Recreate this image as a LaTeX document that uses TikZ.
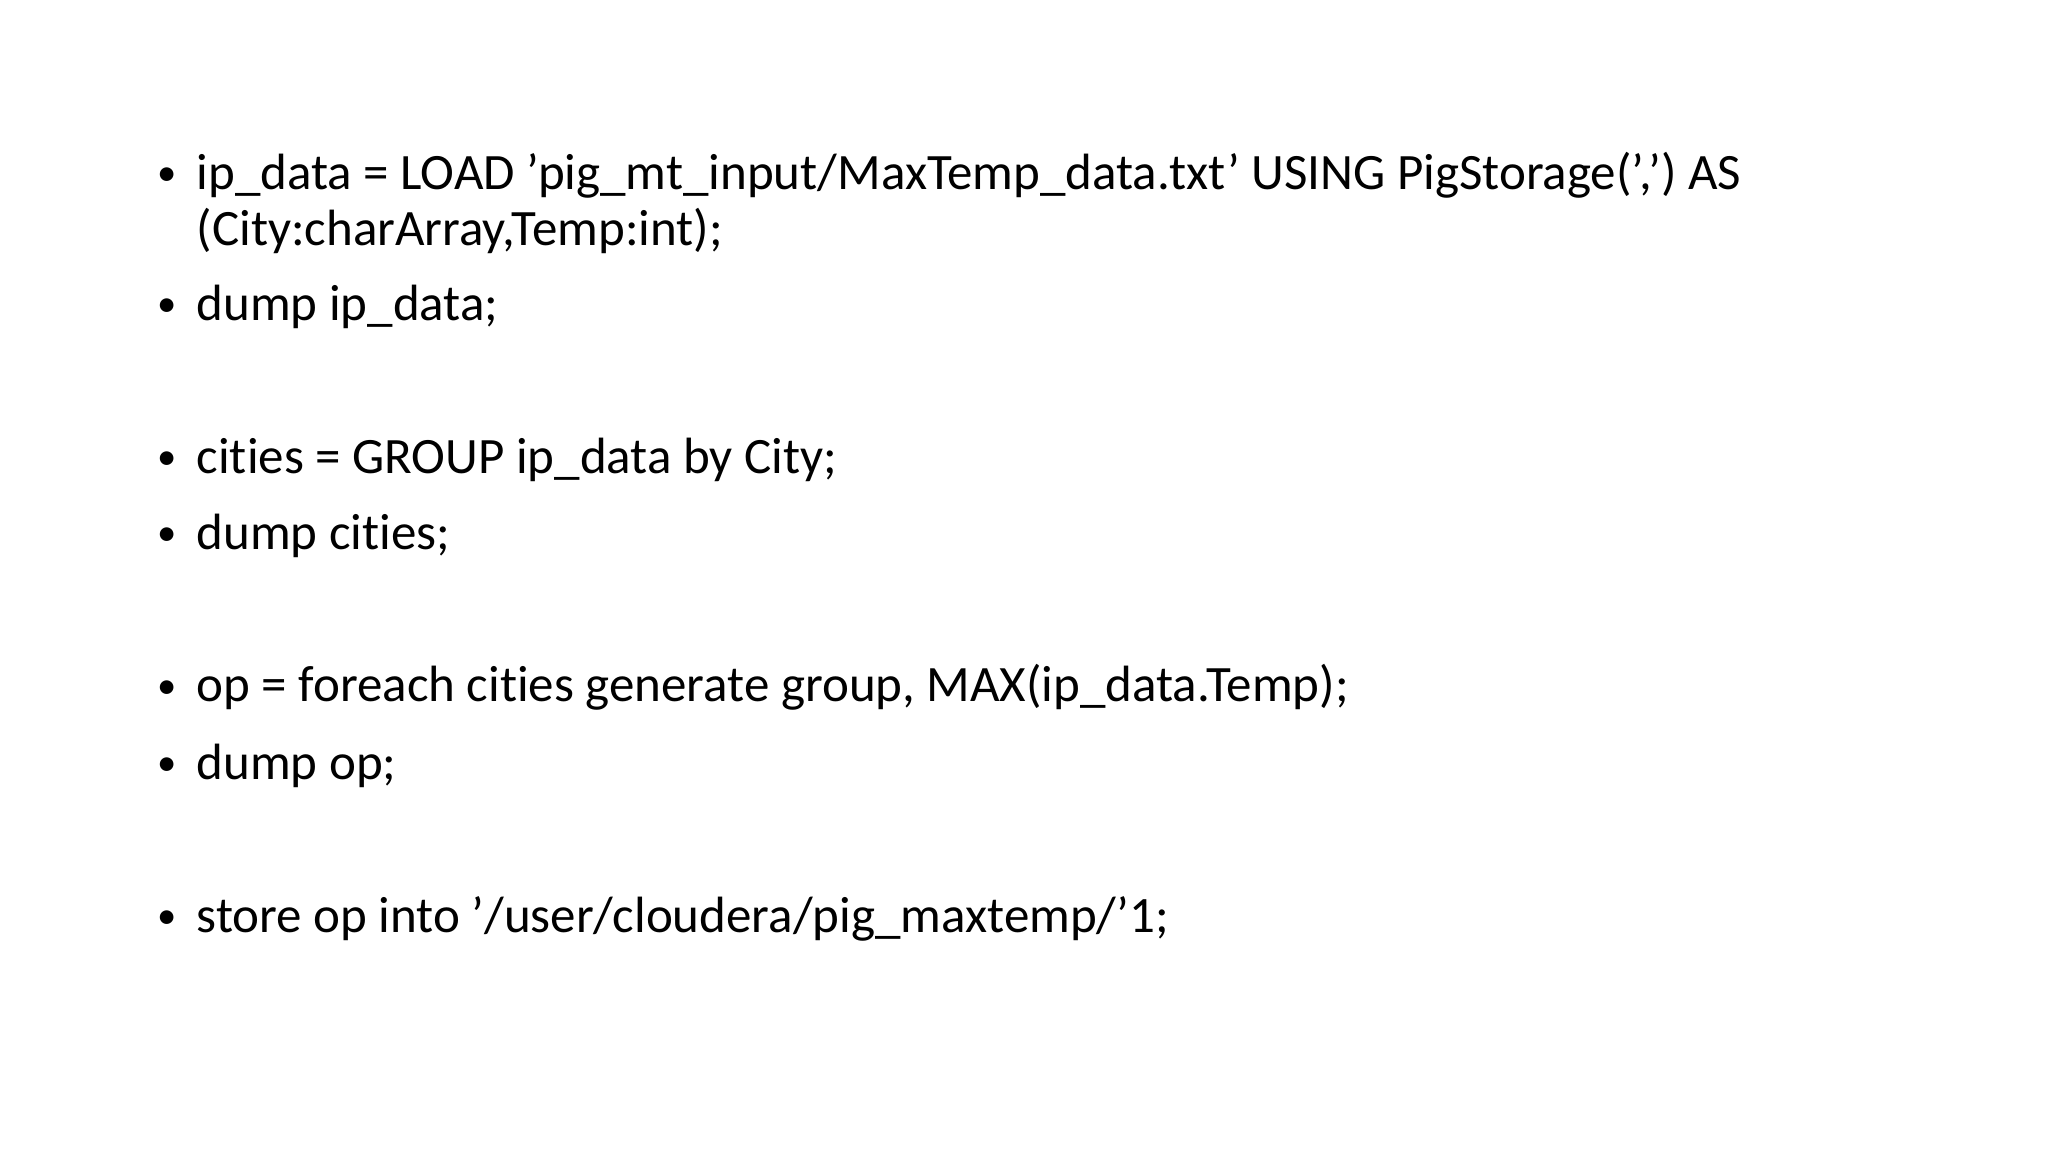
\documentclass[tikz,border=0pt]{standalone}
\usepackage{fontspec}
\setmainfont[Ligatures=NoCommon]{Carlito}
\newcommand{\sq}{\symbol{39}}
\begin{document}
\begin{tikzpicture}[x=0.01cm,y=-0.01cm,
  txt/.style={anchor=base west,inner sep=0pt,font=\fontsize{14.5}{18}\selectfont},
  bul/.style={anchor=base west,inner sep=0pt,font=\fontsize{11}{14}\selectfont}]
\fill[white] (0,0) rectangle (2048,1152);
\useasboundingbox (0,0) rectangle (2048,1152);
\foreach \n/\y/\t in {a/190/{ip\_data = LOAD \sq pig\_mt\_input/MaxTemp\_data.txt\sq{} USING PigStorage(\sq,\sq) AS},
  c/321/{dump ip\_data;},
  d/474/{cities = GROUP ip\_data by City;},
  e/550/{dump cities;},
  f/702/{op = foreach cities generate group, MAX(ip\_data.Temp);},
  g/779/{dump op;},
  h/932/{store op into \sq/user/cloudera/pig\_maxtemp/\sq 1;}}{
  \node[bul] (b\n) at (157,\y-4) {•};
  \node[txt] (\n) at (196,\y) {\t};
}
\node[txt] (a2) at (196,246) {(City:charArray,Temp:int);};
\end{tikzpicture}
\end{document}
